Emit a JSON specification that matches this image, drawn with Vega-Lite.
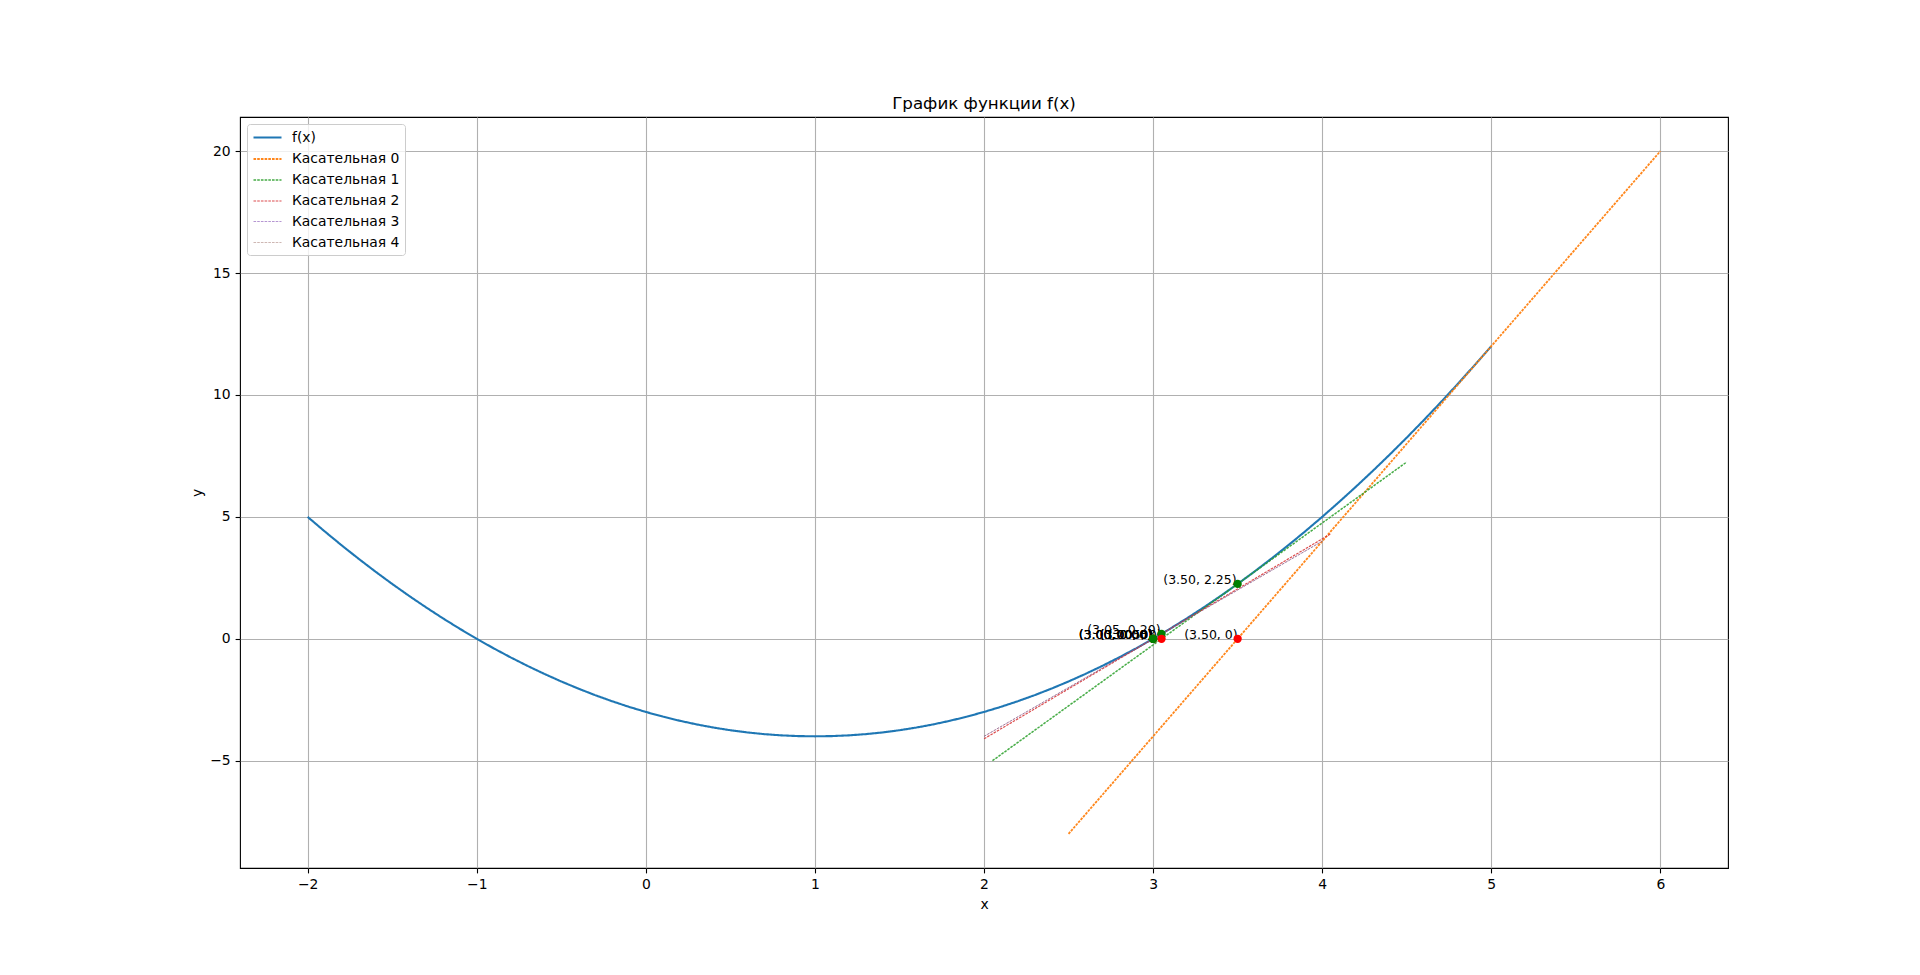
{
  "$schema": "https://vega.github.io/schema/vega-lite/v6.json",
  "autosize": {"type": "none"},
  "width": 1488,
  "height": 751,
  "padding": {"left": 240, "top": 117, "right": 192, "bottom": 107},
  "background": "white",
  "title": {"text": "График функции f(x)", "fontSize": 16.7, "fontWeight": "normal", "font": "DejaVu Sans", "color": "black", "offset": 4, "anchor": "middle"},
  "datasets": {
    "lines": [
      {"s": "f(x)", "x": -2.0, "y": 5.0}, {"s": "f(x)", "x": -1.9, "y": 4.41}, {"s": "f(x)", "x": -1.8, "y": 3.84}, {"s": "f(x)", "x": -1.7, "y": 3.29},
      {"s": "f(x)", "x": -1.6, "y": 2.76}, {"s": "f(x)", "x": -1.5, "y": 2.25}, {"s": "f(x)", "x": -1.4, "y": 1.76}, {"s": "f(x)", "x": -1.3, "y": 1.29},
      {"s": "f(x)", "x": -1.2, "y": 0.84}, {"s": "f(x)", "x": -1.1, "y": 0.41}, {"s": "f(x)", "x": -1.0, "y": 0.0}, {"s": "f(x)", "x": -0.9, "y": -0.39},
      {"s": "f(x)", "x": -0.8, "y": -0.76}, {"s": "f(x)", "x": -0.7, "y": -1.11}, {"s": "f(x)", "x": -0.6, "y": -1.44}, {"s": "f(x)", "x": -0.5, "y": -1.75},
      {"s": "f(x)", "x": -0.4, "y": -2.04}, {"s": "f(x)", "x": -0.3, "y": -2.31}, {"s": "f(x)", "x": -0.2, "y": -2.56}, {"s": "f(x)", "x": -0.1, "y": -2.79},
      {"s": "f(x)", "x": 0.0, "y": -3.0}, {"s": "f(x)", "x": 0.1, "y": -3.19}, {"s": "f(x)", "x": 0.2, "y": -3.36}, {"s": "f(x)", "x": 0.3, "y": -3.51},
      {"s": "f(x)", "x": 0.4, "y": -3.64}, {"s": "f(x)", "x": 0.5, "y": -3.75}, {"s": "f(x)", "x": 0.6, "y": -3.84}, {"s": "f(x)", "x": 0.7, "y": -3.91},
      {"s": "f(x)", "x": 0.8, "y": -3.96}, {"s": "f(x)", "x": 0.9, "y": -3.99}, {"s": "f(x)", "x": 1.0, "y": -4.0}, {"s": "f(x)", "x": 1.1, "y": -3.99},
      {"s": "f(x)", "x": 1.2, "y": -3.96}, {"s": "f(x)", "x": 1.3, "y": -3.91}, {"s": "f(x)", "x": 1.4, "y": -3.84}, {"s": "f(x)", "x": 1.5, "y": -3.75},
      {"s": "f(x)", "x": 1.6, "y": -3.64}, {"s": "f(x)", "x": 1.7, "y": -3.51}, {"s": "f(x)", "x": 1.8, "y": -3.36}, {"s": "f(x)", "x": 1.9, "y": -3.19},
      {"s": "f(x)", "x": 2.0, "y": -3.0}, {"s": "f(x)", "x": 2.1, "y": -2.79}, {"s": "f(x)", "x": 2.2, "y": -2.56}, {"s": "f(x)", "x": 2.3, "y": -2.31},
      {"s": "f(x)", "x": 2.4, "y": -2.04}, {"s": "f(x)", "x": 2.5, "y": -1.75}, {"s": "f(x)", "x": 2.6, "y": -1.44}, {"s": "f(x)", "x": 2.7, "y": -1.11},
      {"s": "f(x)", "x": 2.8, "y": -0.76}, {"s": "f(x)", "x": 2.9, "y": -0.39}, {"s": "f(x)", "x": 3.0, "y": 0.0}, {"s": "f(x)", "x": 3.1, "y": 0.41},
      {"s": "f(x)", "x": 3.2, "y": 0.84}, {"s": "f(x)", "x": 3.3, "y": 1.29}, {"s": "f(x)", "x": 3.4, "y": 1.76}, {"s": "f(x)", "x": 3.5, "y": 2.25},
      {"s": "f(x)", "x": 3.6, "y": 2.76}, {"s": "f(x)", "x": 3.7, "y": 3.29}, {"s": "f(x)", "x": 3.8, "y": 3.84}, {"s": "f(x)", "x": 3.9, "y": 4.41},
      {"s": "f(x)", "x": 4.0, "y": 5.0}, {"s": "f(x)", "x": 4.1, "y": 5.61}, {"s": "f(x)", "x": 4.2, "y": 6.24}, {"s": "f(x)", "x": 4.3, "y": 6.89},
      {"s": "f(x)", "x": 4.4, "y": 7.56}, {"s": "f(x)", "x": 4.5, "y": 8.25}, {"s": "f(x)", "x": 4.6, "y": 8.96}, {"s": "f(x)", "x": 4.7, "y": 9.69},
      {"s": "f(x)", "x": 4.8, "y": 10.44}, {"s": "f(x)", "x": 4.9, "y": 11.21}, {"s": "f(x)", "x": 5.0, "y": 12.0},
      {"s": "Касательная 0", "x": 2.5, "y": -8.0}, {"s": "Касательная 0", "x": 6.0, "y": 20.0},
      {"s": "Касательная 1", "x": 2.05, "y": -5.0}, {"s": "Касательная 1", "x": 4.5, "y": 7.25},
      {"s": "Касательная 2", "x": 2.0006, "y": -4.1}, {"s": "Касательная 2", "x": 4.05, "y": 4.3025},
      {"s": "Касательная 3", "x": 2.0000001, "y": -4.0012}, {"s": "Касательная 3", "x": 4.00061, "y": 4.00366},
      {"s": "Касательная 4", "x": 2.0, "y": -4.0}, {"s": "Касательная 4", "x": 4.0000001, "y": 4.0000004}
    ],
    "points": [
      {"k": "curve", "x": 3.5, "y": 2.25, "label": "(3.50, 2.25)"},
      {"k": "root", "x": 3.5, "y": 0, "label": "(3.50, 0)"},
      {"k": "curve", "x": 3.05, "y": 0.2025, "label": "(3.05, 0.20)"},
      {"k": "root", "x": 3.05, "y": 0, "label": "(3.05, 0)"},
      {"k": "root", "x": 3.00061, "y": 0, "label": "(3.00, 0)"},
      {"k": "root", "x": 3.0000001, "y": 0, "label": "(3.00, 0)"},
      {"k": "root", "x": 3.0, "y": 0, "label": "(3.00, 0)"},
      {"k": "curve", "x": 3.00061, "y": 0.00244, "label": "(3.00, 0.00)"},
      {"k": "curve", "x": 3.0000001, "y": 0.0000004, "label": "(3.00, 0.00)"},
      {"k": "curve", "x": 3.0, "y": 0.0, "label": "(3.00, 0.00)"}
    ]
  },
  "encoding": {
    "x": {"field": "x", "type": "quantitative", "scale": {"domain": [-2.4, 6.4], "nice": false, "zero": false}, "axis": {"values": [-2, -1, 0, 1, 2, 3, 4, 5, 6], "title": "x", "format": "d"}},
    "y": {"field": "y", "type": "quantitative", "scale": {"domain": [-9.4, 21.4], "nice": false, "zero": false}, "axis": {"values": [-5, 0, 5, 10, 15, 20], "title": "y", "format": "d"}}
  },
  "layer": [
    {
      "data": {"name": "lines"},
      "mark": {"type": "line", "clip": true},
      "encoding": {
        "color": {"field": "s", "type": "nominal", "title": null,
          "scale": {"domain": ["f(x)", "Касательная 0", "Касательная 1", "Касательная 2", "Касательная 3", "Касательная 4"],
                    "range": ["#1f77b4", "#ff7f0e", "#2ca02c", "#d62728", "#9467bd", "#8c564b"]}},
        "strokeDash": {"field": "s", "type": "nominal", "title": null,
          "scale": {"domain": ["f(x)", "Касательная 0", "Касательная 1", "Касательная 2", "Касательная 3", "Касательная 4"],
                    "range": [[1, 0], [2.6, 1.1], [2.6, 1.1], [2.6, 1.1], [2.6, 1.1], [2.6, 1.1]]}},
        "strokeWidth": {"field": "s", "type": "nominal", "title": null,
          "scale": {"domain": ["f(x)", "Касательная 0", "Касательная 1", "Касательная 2", "Касательная 3", "Касательная 4"],
                    "range": [2.1, 0.6, 0.6, 0.6, 0.6, 0.6]}},
        "opacity": {"field": "s", "type": "nominal", "title": null,
          "scale": {"domain": ["f(x)", "Касательная 0", "Касательная 1", "Касательная 2", "Касательная 3", "Касательная 4"],
                    "range": [1, 0.7, 0.7, 0.7, 0.7, 0.7]}}
      }
    },
    {
      "data": {"values": [{}]},
      "mark": {"type": "rule", "color": "black", "strokeWidth": 1.6},
      "encoding": {"x": null, "y": {"datum": 0, "type": "quantitative"}}
    },
    {
      "data": {"values": [{}]},
      "mark": {"type": "rule", "color": "black", "strokeWidth": 1.6},
      "encoding": {"y": null, "x": {"datum": 0, "type": "quantitative"}}
    },
    {
      "data": {"name": "points"},
      "transform": [{"filter": "datum.k == 'curve'"}],
      "mark": {"type": "text", "align": "right", "baseline": "bottom", "dx": -1, "dy": 3, "fontSize": 12.5, "font": "DejaVu Sans", "color": "black"},
      "encoding": {"text": {"field": "label"}}
    },
    {
      "data": {"name": "points"},
      "transform": [{"filter": "datum.k == 'root'"}],
      "mark": {"type": "text", "align": "right", "baseline": "bottom", "dx": 0, "dy": 3, "fontSize": 12.5, "font": "DejaVu Sans", "color": "black"},
      "encoding": {"text": {"field": "label"}}
    },
    {
      "data": {"name": "points"},
      "mark": {"type": "circle", "size": 69, "opacity": 1},
      "encoding": {
        "fill": {"field": "k", "type": "nominal", "legend": null, "scale": {"domain": ["curve", "root"], "range": ["#008000", "#ff0000"]}}
      }
    }
  ],
  "config": {
    "font": "DejaVu Sans",
    "view": {"stroke": "black", "strokeWidth": 1.1},
    "axis": {
      "grid": true, "gridColor": "#b0b0b0", "gridWidth": 1.1, "domain": false,
      "ticks": true, "tickColor": "black", "tickWidth": 1.1, "tickSize": 4.9,
      "labelFont": "DejaVu Sans", "labelFontSize": 13.9, "labelColor": "black", "labelPadding": 4.9,
      "titleFont": "DejaVu Sans", "titleFontSize": 13.9, "titleFontWeight": "normal", "titleColor": "black"
    },
    "axisX": {"titlePadding": 6},
    "axisY": {"titlePadding": 5},
    "legend": {
      "orient": "top-left", "offset": 7, "padding": 5, "fillColor": "rgba(255,255,255,0.8)", "strokeColor": "#cccccc",
      "cornerRadius": 3, "labelFont": "DejaVu Sans", "labelFontSize": 13.9, "labelColor": "black",
      "symbolType": "M-2,0H2", "symbolSize": 196, "symbolOffset": 7, "rowPadding": 6, "labelOffset": 16
    }
  }
}
